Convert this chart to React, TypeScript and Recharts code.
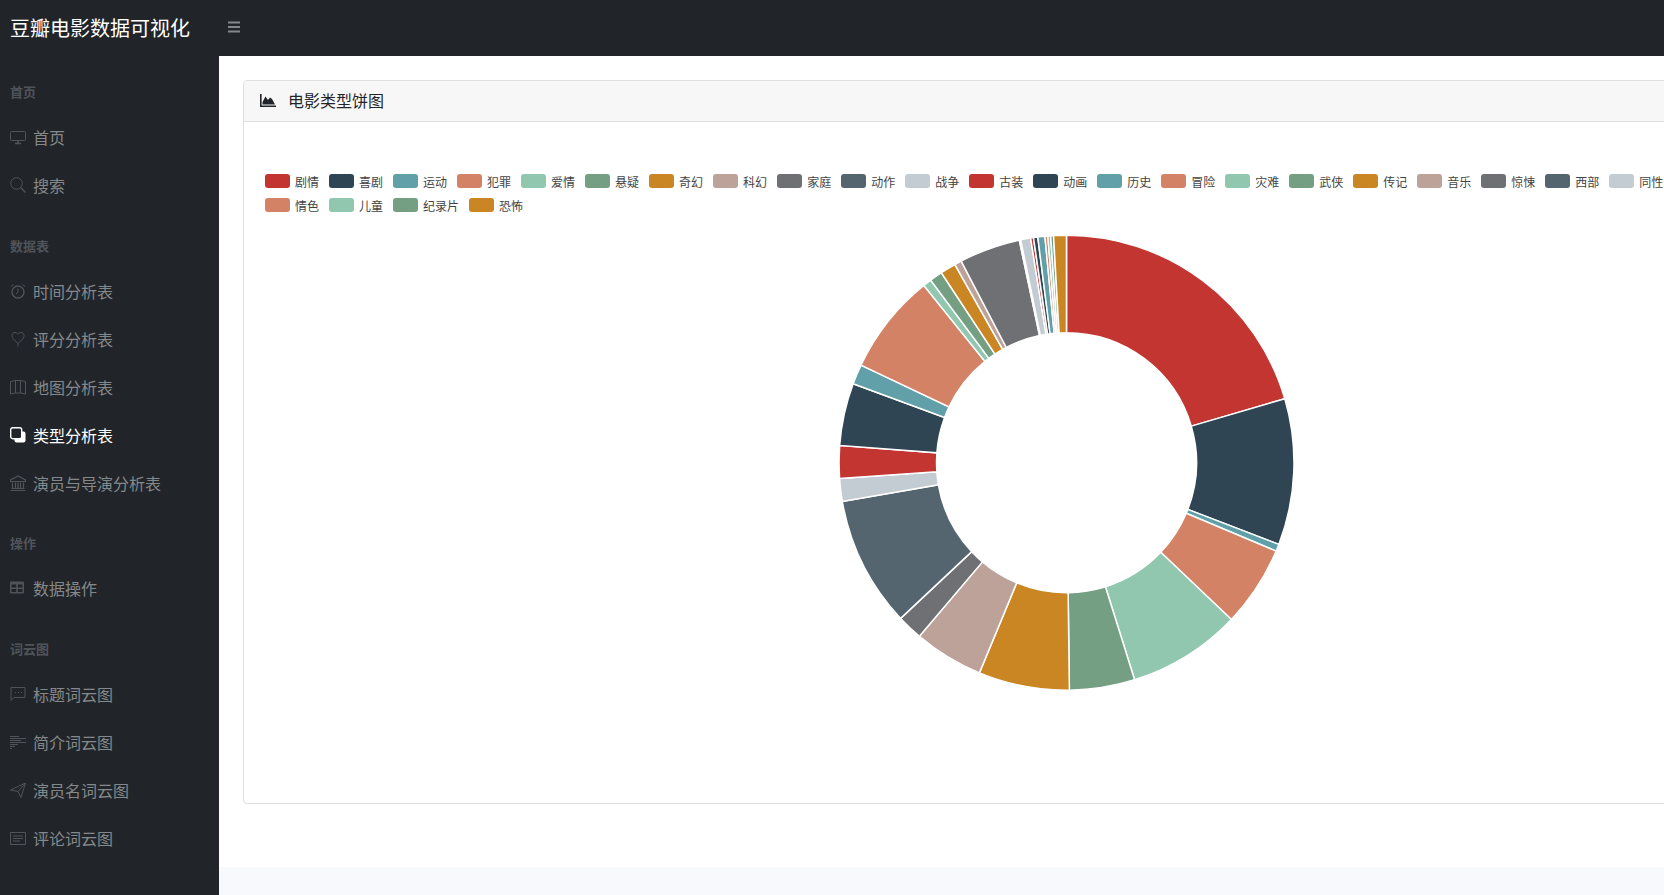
// Douban movie genre donut inside the dashboard shell
import React from 'react';
import { PieChart, Pie, Legend } from 'recharts';

const FONT = '"Noto Sans CJK SC", "Noto Sans", sans-serif';

// the three names after 同性 run off the right edge of the page, so they are guesses
const genres = [
  '剧情', '喜剧', '运动', '犯罪', '爱情', '悬疑', '奇幻', '科幻', '家庭', '动作',
  '战争', '古装', '动画', '历史', '冒险', '灾难', '武侠', '传记', '音乐', '惊悚',
  '西部', '同性', '歌舞', '鬼怪', '短片', '情色', '儿童', '纪录片', '恐怖',
];
const counts = [
  203, 103, 5, 57, 80, 46, 64, 49, 18, 92,
  16, 23, 44, 14, 71, 6, 9, 11, 5, 43,
  1, 7, 2, 3, 5, 2, 2, 2, 9,
];
const palette = [
  '#c23531', '#2f4554', '#61a0a8', '#d48265', '#91c7ae', '#749f83',
  '#ca8622', '#bda29a', '#6e7074', '#546570', '#c4ccd3',
];

const chartData = genres.map((name, i) => ({
  name,
  value: counts[i],
  fill: palette[i % palette.length],
}));

type IconName =
  | 'desktop' | 'search' | 'clock' | 'heart' | 'map' | 'clone' | 'bank'
  | 'table' | 'comment' | 'lines' | 'send' | 'text';

const navSections: { title: string; items: { label: string; icon: IconName; active?: boolean }[] }[] = [
  { title: '首页', items: [{ label: '首页', icon: 'desktop' }, { label: '搜索', icon: 'search' }] },
  {
    title: '数据表',
    items: [
      { label: '时间分析表', icon: 'clock' },
      { label: '评分分析表', icon: 'heart' },
      { label: '地图分析表', icon: 'map' },
      { label: '类型分析表', icon: 'clone', active: true },
      { label: '演员与导演分析表', icon: 'bank' },
    ],
  },
  { title: '操作', items: [{ label: '数据操作', icon: 'table' }] },
  {
    title: '词云图',
    items: [
      { label: '标题词云图', icon: 'comment' },
      { label: '简介词云图', icon: 'lines' },
      { label: '演员名词云图', icon: 'send' },
      { label: '评论词云图', icon: 'text' },
    ],
  },
];

const NavIcon = ({ name, color }: { name: IconName; color: string }) => {
  const line = { fill: 'none', stroke: color, strokeWidth: 1 };
  let body: React.ReactNode = null;
  switch (name) {
    case 'desktop':
      body = (
        <>
          <rect x="0.5" y="2.5" width="15" height="9" rx="1" {...line} />
          <path d="M5 14.5h6M8 12v2" {...line} strokeWidth={1.5} />
        </>
      );
      break;
    case 'search':
      body = (
        <>
          <circle cx="6.5" cy="6.5" r="5.8" {...line} />
          <path d="M10.8 10.8L15.5 15.5" {...line} strokeWidth={1.4} />
        </>
      );
      break;
    case 'clock':
      body = (
        <>
          <circle cx="8" cy="9" r="6" {...line} strokeWidth={1.4} />
          <path d="M8 5.5V9l-2 2M1 3.5L3.5 1.5M15 3.5L12.5 1.5" {...line} />
        </>
      );
      break;
    case 'heart':
      body = <path d="M8 12.5C4 9 2 7 2 4.5 2 2.5 3.5 1.5 5 1.5c1.3 0 2.3.7 3 1.7.7-1 1.7-1.7 3-1.7 1.5 0 3 1 3 3 0 2.5-2 4.5-6 8zM8 12.5V15.5" {...line} />;
      break;
    case 'map':
      body = <path d="M0.5 2.5L5.5 1.5V14L0.5 15ZM5.5 1.5H10.5V14H5.5ZM10.5 1.5L15.5 2.5V15L10.5 14Z" {...line} />;
      break;
    case 'clone':
      body = (
        <>
          <rect x="4.5" y="4.5" width="11" height="11" rx="2" fill={color} />
          <rect x="0.7" y="0.7" width="11" height="11" rx="2" fill="#212529" stroke={color} strokeWidth={1.4} />
        </>
      );
      break;
    case 'bank':
      body = <path d="M8 1L0.5 5V6.5H15.5V5ZM2.5 7.5V13M5.5 7.5V13M8 7.5V13M10.5 7.5V13M13.5 7.5V13M1.5 13.5H14.5M0.5 15.5H15.5" {...line} strokeWidth={1.2} />;
      break;
    case 'table':
      body = <path d="M0 2.5a1 1 0 011-1h12a1 1 0 011 1v10a1 1 0 01-1 1H1a1 1 0 01-1-1zM1.5 4.5v3h4.7v-3zM7.8 4.5v3h4.7v-3zM1.5 9v3h4.7V9zM7.8 9v3h4.7V9z" fill={color} fillRule="evenodd" />;
      break;
    case 'comment':
      body = <path d="M1 1.5H15V11.5H4L1 14.5ZM5 6.5H6M8 6.5H9M11 6.5H12" {...line} />;
      break;
    case 'lines':
      body = <path d="M0 2.5H9M0 4.5H16M0 6.5H11M0 8.5H16M0 10.5H8M0 12.5H5M0 14.5H2" {...line} />;
      break;
    case 'send':
      body = <path d="M15.5 1L0.5 8L8 9.5L11 15.5ZM15.5 1L8 9.5" {...line} />;
      break;
    case 'text':
      body = <path d="M0.5 2.5H15.5V14.5H0.5ZM3 6H13M3 8.5H13M3 11H10" {...line} />;
      break;
  }
  return (
    <svg width={16} height={16} viewBox="0 0 16 16" style={{ marginRight: 8, flex: 'none' }}>
      {body}
    </svg>
  );
};

const Sidebar = () => (
  <div
    style={{
      position: 'absolute', left: 0, top: 56, width: 219, height: 839,
      background: '#212529', paddingTop: 15, boxSizing: 'border-box',
    }}
  >
    {navSections.map((sec) => (
      <div key={sec.title} style={{ marginBottom: 15.6 }}>
        <div style={{ height: 42, lineHeight: '42px', paddingLeft: 10, fontSize: 13, fontWeight: 700, color: '#50545a' }}>
          {sec.title}
        </div>
        {sec.items.map((it) => (
          <div
            key={it.label}
            style={{
              height: 48, display: 'flex', alignItems: 'center', paddingLeft: 10,
              fontSize: 16, color: it.active ? '#ffffff' : '#85888b',
            }}
          >
            <NavIcon name={it.icon} color={it.active ? '#ffffff' : '#50545a'} />
            <span style={{ marginLeft: -1 }}>{it.label}</span>
          </div>
        ))}
      </div>
    ))}
  </div>
);

const renderLegend = (props: any) => (
  <div style={{ display: 'flex', flexWrap: 'wrap', fontFamily: FONT }}>
    {(props.payload || []).map((p: any) => (
      <div key={p.value} style={{ display: 'flex', alignItems: 'center', height: 24, marginRight: 10 }}>
        <span style={{ width: 25, height: 14, borderRadius: 3, background: p.color, marginRight: 5 }} />
        <span style={{ fontSize: 12, color: '#444', whiteSpace: 'nowrap' }}>{p.value}</span>
      </div>
    ))}
  </div>
);

export default function App() {
  return (
    <div style={{ position: 'fixed', left: 0, top: 0, width: 1664, height: 895, overflow: 'hidden', background: '#f8f9fc', fontFamily: FONT }}>
      {/* top bar */}
      <div style={{ position: 'absolute', left: 0, top: 0, width: 1664, height: 56, background: '#212529' }}>
        <div style={{ position: 'absolute', left: 10, top: 0, lineHeight: '56px', fontSize: 20, color: '#fff' }}>
          豆瓣电影数据可视化
        </div>
        <svg width={12} height={12} viewBox="0 0 12 12" style={{ position: 'absolute', left: 228, top: 21 }}>
          <path d="M0 1.5H12M0 6H12M0 10.5H12" stroke="#85888b" strokeWidth={2} />
        </svg>
      </div>

      <Sidebar />

      {/* content area */}
      <div style={{ position: 'absolute', left: 219, top: 56, width: 1445, height: 811, background: '#fff' }} />

      {/* card, it carries on past the right edge of the page */}
      <div
        style={{
          position: 'absolute', left: 243, top: 80, width: 1647, height: 724, boxSizing: 'border-box',
          border: '1px solid #dfdfdf', borderRadius: 4, background: '#fff',
        }}
      >
        <div style={{ height: 41, boxSizing: 'border-box', borderBottom: '1px solid #dfdfdf', background: '#f7f7f7', borderRadius: '4px 4px 0 0', position: 'relative' }}>
          <svg width={16} height={14} viewBox="0 0 16 14" style={{ position: 'absolute', left: 16, top: 13 }}>
            <path d="M0 0H1.6V11.6H16V13H0ZM2.5 10.6V8L5.5 2.5 8 6l2-2.5 2 1.5 3 5.6Z" fill="#212529" />
          </svg>
          <div style={{ position: 'absolute', left: 44, top: 0, lineHeight: '38px', fontSize: 16, color: '#212529' }}>
            电影类型饼图
          </div>
        </div>
      </div>

      <div style={{ position: 'absolute', left: 244, top: 123 }}>
        <PieChart width={1645} height={679} margin={{ top: 0, right: 0, bottom: 0, left: 0 }}>
          <Legend
            content={renderLegend}
            itemSorter={null}
            wrapperStyle={{ position: 'absolute', left: 21, top: 46, width: 1603 }}
          />
          <Pie
            data={chartData}
            dataKey="value"
            nameKey="name"
            cx={822.5}
            cy={339.7}
            innerRadius={130}
            outerRadius={227.5}
            startAngle={90}
            endAngle={-270}
            stroke="#fff"
            strokeWidth={1.5}
            isAnimationActive={false}
          />
        </PieChart>
      </div>
    </div>
  );
}
